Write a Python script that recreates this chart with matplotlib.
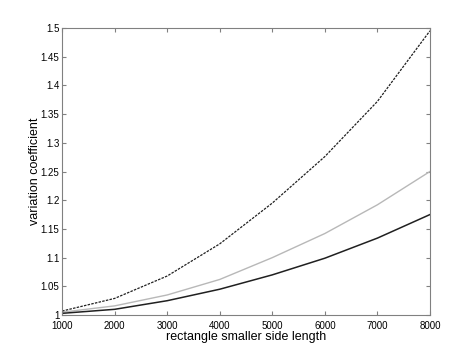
import matplotlib
matplotlib.use('Agg')
import matplotlib.pyplot as plt

side = [1000, 2000, 3000, 4000, 5000, 6000, 7000, 8000]
dashed = [1.007, 1.029, 1.068, 1.124, 1.195, 1.276, 1.372, 1.495]
light = [1.005, 1.016, 1.035, 1.062, 1.100, 1.142, 1.192, 1.250]
dark = [1.003, 1.010, 1.025, 1.045, 1.070, 1.099, 1.134, 1.175]

plt.rcParams['font.family'] = ['Liberation Sans', 'DejaVu Sans']

fig = plt.figure(figsize=(4.74, 3.54), dpi=100)
ax = fig.add_axes([0.131, 0.110, 0.776, 0.811])

ax.plot(side, light, color='#b8b8b8', lw=1.0)
ax.plot(side, dark, color='#202020', lw=1.1)
ax.plot(side, dashed, color='#202020', lw=0.9, ls=(0, (2, 1)))

ax.set_xlim(1000, 8000)
ax.set_ylim(1, 1.5)
ax.set_xticks(side)
ax.set_yticks([1, 1.05, 1.1, 1.15, 1.2, 1.25, 1.3, 1.35, 1.4, 1.45, 1.5])
ax.set_yticklabels(['1', '1.05', '1.1', '1.15', '1.2', '1.25', '1.3', '1.35', '1.4', '1.45', '1.5'])
ax.tick_params(direction='in', top=True, right=True, labelsize=7, length=3, color='#808080')
ax.tick_params(axis='x', pad=4)
ax.tick_params(axis='y', pad=2)
for s in ax.spines.values():
    s.set_color('#808080')
ax.set_xlabel('rectangle smaller side length', fontsize=9, labelpad=0)
ax.set_ylabel('variation coefficient', fontsize=9, labelpad=0)

fig.savefig('out.png', dpi=100)
